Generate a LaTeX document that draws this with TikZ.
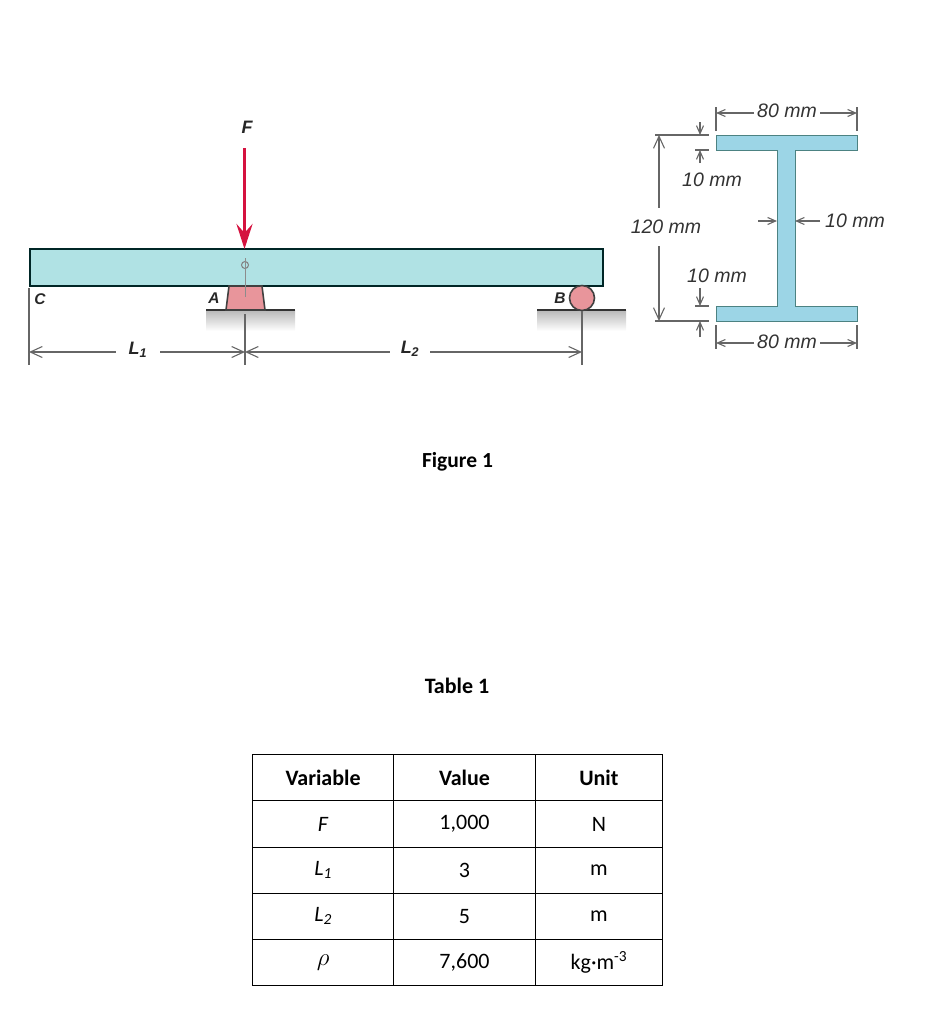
\documentclass[tikz,border=0pt]{standalone}
\usepackage{fontspec}
\setmainfont{Carlito}
\newfontfamily\labelfont{Liberation Sans}
\usetikzlibrary{positioning}
\usetikzlibrary{matrix}
\usetikzlibrary{arrows.meta}
\definecolor{beamblue}{HTML}{B0E2E4}
\definecolor{sectionblue}{HTML}{9CD5E6}
\definecolor{supportpink}{HTML}{E8959B}
\definecolor{forcered}{HTML}{D5123F}

\begin{document}
\begin{tikzpicture}
 [ x=1pt
 , y=-1pt
 , beam/.style={draw=black!70!teal, line width=1.6pt, fill=beamblue, inner sep=0pt, outer sep=0pt, minimum width=573pt, minimum height=37pt}
 , support/.style={draw=black!75, line width=1.6pt, fill=supportpink}
 , section/.style={draw=black!40!teal!70, line width=1pt, fill=sectionblue}
 , thinline/.style={draw=black!60, line width=1.1pt}
 , dimline/.style={thinline, -{Straight Barb[length=12pt, width=11pt]}}
 , dimtip/.style={thinline, -{Straight Barb[length=8pt, width=7pt]}}
 , tag/.style={font=\labelfont\bfseries\itshape\fontsize{15.5}{17}\selectfont, text=black!85, inner sep=0pt}
 , bigtag/.style={font=\labelfont\bfseries\itshape\fontsize{18}{20}\selectfont, text=black!85, inner sep=0pt}
 , size/.style={font=\labelfont\itshape\fontsize{19.5}{22}\selectfont, text=black!80, inner sep=0pt}
 , heading/.style={font=\bfseries\fontsize{21.5}{24}\selectfont, inner sep=0pt}
 , cell/.style={draw, line width=0.9pt, minimum height=46.2pt, inner sep=0pt, outer sep=0pt, anchor=center, font=\fontsize{22}{24}\selectfont}
 ]
  \useasboundingbox (0,0) rectangle (950,1020);

  % beam and its supports
  \foreach \gx in {206,537}
  {
    \shade [top color=black!28, bottom color=white] (\gx,310) rectangle ++(89,21);
    \draw [line width=1.4pt, black!80] (\gx,310) -- ++(89,0);
  }
  \node [beam] (bar) at (316.5,267.5) {};
  \draw [support] (229,286) -- (262,286) -- (265,310) -- (226,310) -- cycle;
  \node [support, circle, minimum size=25pt, inner sep=0pt] (roller) at (582,298) {};
  \node [circle, draw=black!50, line width=1pt, minimum size=7pt, inner sep=0pt] (pin) at (245,265) {};
  \coordinate (pinfoot) at (245,297);
  \draw [thinline, draw=black!45, line width=0.9pt] (245,258) -- (pinfoot);

  \node [tag] (labelC) at (40,299) {C};
  \node [tag] (labelA) at (214,298) {A};
  \node [tag] (labelB) at (560,298) {B};

  % load
  \node [bigtag] (labelF) at (247,127) {F};
  \coordinate (forcetail) at (244.5,148);
  \draw [forcered, line width=3.4pt, -{Stealth[length=25pt, width=16pt, inset=9pt]}] (forcetail) -- (forcetail |- bar.north);

  % span dimensions
  \coordinate (dimC) at (29,352);
  \coordinate (dimA) at (245,352);
  \coordinate (dimB) at (582,352);
  \draw [thinline] (29,288) -- (29,365);
  \draw [thinline] (245,314) -- (245,365);
  \draw [thinline] (roller.south) -- (582,365);
  \node [bigtag, inner xsep=13pt] (labelL1) at (138,350) {L\textsubscript{1}};
  \node [bigtag, inner xsep=11pt] (labelL2) at (410,349) {L\textsubscript{2}};
  \draw [dimline] (labelL1.west |- dimC) -- (dimC);
  \draw [dimline] (labelL1.east |- dimA) -- (dimA);
  \draw [dimline] (labelL2.west |- dimA) -- (dimA);
  \draw [dimline] (labelL2.east |- dimB) -- (dimB);

  % cross section
  \draw [section] (716,135) -- (857,135) -- (857,150) -- (795,150) -- (795,306) -- (857,306)
    -- (857,321) -- (716,321) -- (716,306) -- (777,306) -- (777,150) -- (716,150) -- cycle;

  \node [size, inner xsep=3pt] (topwidth) at (787,111) {80 mm};
  \coordinate (topleft) at (716,113);
  \coordinate (topright) at (857,113);
  \draw [thinline] (716,107) -- (716,131);
  \draw [thinline] (857,107) -- (857,131);
  \draw [dimtip] (topwidth.west |- topleft) -- (topleft);
  \draw [dimtip] (topwidth.east |- topright) -- (topright);

  \node [size, inner xsep=3pt] (botwidth) at (787,342) {80 mm};
  \coordinate (botleft) at (716,343);
  \coordinate (botright) at (857,343);
  \draw [thinline] (716,325) -- (716,349);
  \draw [thinline] (857,325) -- (857,349);
  \draw [dimtip] (botwidth.west |- botleft) -- (botleft);
  \draw [dimtip] (botwidth.east |- botright) -- (botright);

  \node [size, minimum height=38pt] (depth) at (666,227) {120 mm};
  \coordinate (depthtop) at (659,135);
  \coordinate (depthbot) at (659,321);
  \draw [thinline] (655,135) -- (709,135);
  \draw [thinline] (655,321) -- (709,321);
  \draw [dimline] (depthtop |- depth.north) -- (depthtop);
  \draw [dimline] (depthbot |- depth.south) -- (depthbot);

  \node [size] (topflange) at (712,180) {10 mm};
  \coordinate (flangeA) at (700,135);
  \coordinate (flangeB) at (700,150);
  \draw [thinline] (695,150) -- (709,150);
  \draw [dimtip] (700,122) -- (flangeA);
  \draw [dimtip] (700,163) -- (flangeB);

  \node [size] (botflange) at (717,276) {10 mm};
  \coordinate (flangeC) at (700,306);
  \coordinate (flangeD) at (700,321);
  \draw [thinline] (695,306) -- (709,306);
  \draw [dimtip] (700,288) -- (flangeC);
  \draw [dimtip] (700,337) -- (flangeD);

  \node [size, inner xsep=5pt] (webwidth) at (855,221) {10 mm};
  \coordinate (webleft) at (777,221);
  \coordinate (webright) at (795,221);
  \draw [dimtip] (758,221) -- (webleft);
  \draw [dimtip] (webwidth.west |- webright) -- (webright);

  \node [heading] (figtitle) at (457.5,462) {Figure 1};
  \node [heading, font=\bfseries\fontsize{22}{24}\selectfont] (tabtitle) at (457,686) {Table 1};

  % table
  \matrix (datatable) [ matrix of nodes
    , anchor=north west
    , nodes={cell}
    , column sep=-0.9pt
    , row sep=-0.9pt
    , column 1/.style={nodes={minimum width=140.9pt}}
    , column 2/.style={nodes={minimum width=141.9pt}}
    , column 3/.style={nodes={minimum width=126.9pt}}
    , inner sep=0pt
    ] at (252,754)
  {
    \textbf{Variable} & \textbf{Value} & \textbf{Unit} \\
    \textit{F} & 1,000 & N \\
    \textit{L\textsubscript{1}} & 3 & m \\
    \textit{L\textsubscript{2}} & 5 & m \\
    {\fontsize{24.88}{24}\selectfont$\rho$} & 7,600 & kg·m\textsuperscript{-3} \\
  };
\end{tikzpicture}
\end{document}
